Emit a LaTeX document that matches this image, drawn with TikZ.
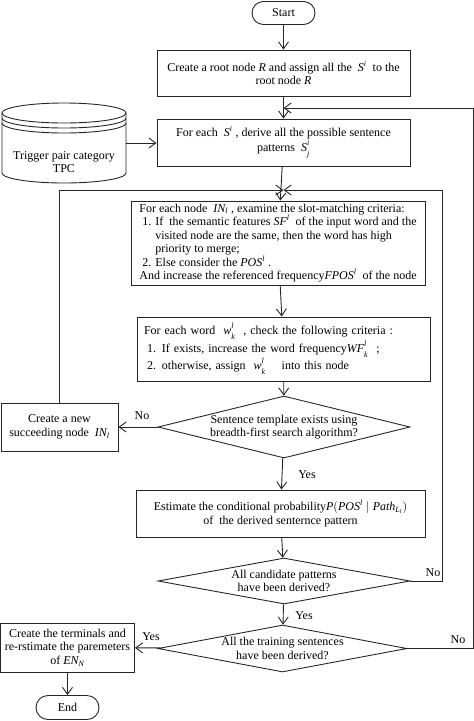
\documentclass[tikz,border=0pt]{standalone}
\usepackage{fontspec}
\setmainfont{Liberation Serif}
\usepackage{amsmath}
\usetikzlibrary{arrows.meta,shapes.geometric,shapes.misc}
\newcommand{\vi}[1]{\textit{#1}}
\newcommand{\supsub}[3]{\vi{#1}^{\raisebox{1.5pt}{$\scriptstyle\vi{#2}$}}_{\raisebox{-2pt}{$\scriptstyle\vi{#3}$}}}
\begin{document}
\begin{tikzpicture}[x=1pt,y=-1pt,
  ln/.style={draw=black!85, line width=0.9pt},
  arr/.style={ln, -{Straight Barb[length=7pt,width=10pt,line width=0.9pt]}},
  txt/.style={font=\fontsize{12}{13.5}\selectfont},
  box/.style={ln, rectangle, inner sep=2pt, align=center, txt},
  lbox/.style={box, align=left},
  term/.style={ln, rounded rectangle, inner sep=0pt, txt},
  dec/.style={ln, diamond, inner sep=0pt},
  lbl/.style={txt, inner sep=0pt}]
\useasboundingbox (0,0) rectangle (474,721);

% terminals
\node[term, minimum width=63pt, minimum height=23pt] (start) at (283.5,13) {Start};
\node[term, minimum width=63pt, minimum height=24pt] (end) at (67.5,707.5) {End};

% process boxes
\node[box, minimum width=253pt, minimum height=46pt] (b1) at (283.5,73)
  {Create a root node \vi{R} and assign all the \ $\vi{S}^{\vi{i}}$ \ to the\\ root node \vi{R}};
\node[box, minimum width=253pt, minimum height=47pt] (b2) at (283.5,142.5)
  {For each \ $\vi{S}^{\vi{i}}$ , derive all the possible sentence\\ patterns \ $\supsub{S}{i}{j}$};
\node[lbox, minimum width=294pt, minimum height=84pt] (b3) at (278,243)
  {For each node \ $\vi{IN}_{\vi{l}}$ , examine the slot-matching criteria:\\
   \hspace*{3pt}1. If \ the semantic features $\vi{SF}^{\vi{l}}$ \ of the input word and the\\
   \hspace*{16pt}visited node are the same, then the word has high\\
   \hspace*{16pt}priority to merge;\\
   \hspace*{3pt}2. Else consider the $\vi{POS}^{\vi{l}}$ .\\
   And increase the referenced frequency$\vi{FPOS}^{\vi{l}}$ \ of the node};
\node[lbox, minimum width=293pt, minimum height=64pt, text width=279pt] (b4) at (283.5,349)
  {For each word \ $\supsub{w}{l}{k}$ \ , check the following criteria :\\
   \hspace*{3pt}1. If exists, increase the word frequency$\supsub{WF}{l}{k}$ \ ;\\
   \hspace*{3pt}2. otherwise, assign \ $\supsub{w}{l}{k}$ \quad into this node};
\node[box, minimum width=117pt, minimum height=48pt] (b5) at (59.5,427)
  {Create a new\\ succeeding node \ $\vi{IN}_{\vi{l}}$};
\node[box, minimum width=289pt, minimum height=47pt] (b6) at (280.5,513.5)
  {Estimate the conditional probability$\vi{P}(\vi{POS}^{\vi{l}}\mid \vi{Path}_{\vi{L}_{\vi{l}}})$\\ of \ the derived senternce pattern};
\node[box, minimum width=134pt, minimum height=49pt, inner sep=0pt] (b7) at (67.5,647.5)
  {Create the terminals and\\ re-rstimate the paremeters\\ of $\vi{EN}_{\vi{N}}$};

% decisions
\node[dec, minimum width=252pt, minimum height=62pt] (d1) at (284,427) {};
\node[lbl, align=center] (d1t) at (d1) {Sentence template exists using\\ breadth-first search algorithm?};
\node[dec, minimum width=252pt, minimum height=46pt] (d2) at (284,581) {};
\node[lbl, align=center] (d2t) at (d2) {All candidate patterns\\ have been derived?};
\node[dec, minimum width=249pt, minimum height=47pt] (d3) at (282.5,648.5) {};
\node[lbl, align=center] (d3t) at (d3) {All the training sentences\\ have been derived?};

% database cylinder
\draw[ln] (64,113) ellipse [x radius=62pt, y radius=10pt];
\draw[ln] (2,118) arc [start angle=180, end angle=360, x radius=62pt, y radius=10pt];
\draw[ln] (2,123) arc [start angle=180, end angle=360, x radius=62pt, y radius=10pt];
\draw[ln] (2,113) -- (2,173) arc [start angle=180, end angle=360, x radius=62pt, y radius=10pt] -- (126,113);
\node[lbl, align=center] (tpc) at (64,162) {Trigger pair category\\ TPC};
\coordinate (tpcE) at (126,143);

% junctions
\coordinate (j0) at (283.5,108);
\coordinate (j1) at (283.5,190);

% connectors
\draw[arr] (start) -- (b1);
\draw[arr] (b1) -- (b2);
\draw[arr] (tpcE) -- (tpcE -| b2.west);
\draw[arr] (b2) -- (b3);
\draw[arr] (b3) -- (b4);
\draw[arr] (b4) -- (d1);
\draw[arr] (d1) -- (b5);
\draw[arr] (b5.north) |- (j1);
\draw[arr] (d1) -- (b6);
\draw[arr] (b6) -- (d2);
\draw[arr] (d2.east) -- (442,581) |- (j1);
\draw[arr] (d2) -- (d3);
\draw[arr] (d3.east) -- (473,648.5) |- (j0);
\draw[arr] (d3) -- (b7);
\draw[arr] (b7) -- (end);

% labels
\node[lbl] (lno1) at (142,416) {No};
\node[lbl] (lyes1) at (307,475) {Yes};
\node[lbl] (lno2) at (433,573) {No};
\node[lbl] (lyes2) at (304,616) {Yes};
\node[lbl] (lyes3) at (151,637) {Yes};
\node[lbl] (lno3) at (458,640) {No};
\end{tikzpicture}
\end{document}
